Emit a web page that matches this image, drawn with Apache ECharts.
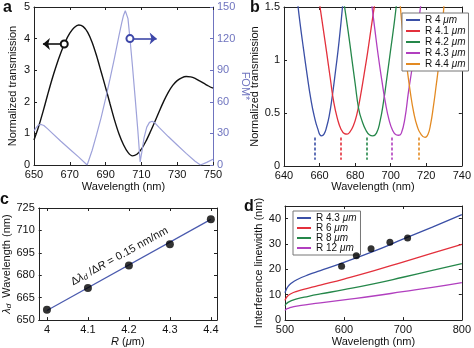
<!DOCTYPE html>
<html><head><meta charset="utf-8">
<script src="https://cdn.jsdelivr.net/npm/echarts@6/dist/echarts.min.js"></script>
<style>html,body{margin:0;padding:0;background:#fff}#c{width:474px;height:348px}</style>
</head><body><div id="c"></div><script>
const FONT = 'Liberation Sans, Arial, sans-serif';

// ---------- Panel a ----------
const aTransX = [650,652.5,655,657.5,660,662.5,665,667.5,670,672.5,675,677.5,680,682.5,685,687.5,690,692.5,695,697.5,700,702.5,705,707.5,710,712.5,715,717.5,720,722.5,725,727.5,730,732.5,735,737.5,740,742.5,745,747.5,750];
const aTransY = [0.79,1.2,1.68,2.2,2.7,3.15,3.55,3.9,4.17,4.35,4.43,4.38,4.2,3.88,3.45,2.95,2.45,1.93,1.42,0.98,0.64,0.4,0.29,0.34,0.5,0.75,1.05,1.37,1.7,2.02,2.3,2.52,2.67,2.76,2.8,2.79,2.74,2.66,2.58,2.5,2.43];
const aFomX = [650,651,652.5,654,655.5,657.5,660,665,670,675,679.7,682.5,685,687.5,690,692.5,695,697.5,699,700,701,701.8,702.5,703.5,705,706.5,708,709.3,710.2,711.5,713,714.5,716,717.5,720,725,730,735,740,743,746.5,750];
const aFomY = [32,35,38,38.5,37.5,34.5,30.5,22.5,15,7.5,0,14,29,45,63,82,102,123,135,142,146.5,146,139,122,94,64,33,3,12,26,36,40.5,41.5,40,35.5,27,19,11,3.5,0,2.5,5.5];
const aXTicks = [650,670,690,710,730,750];
const aYTicks = [0,1,2,3,4,5];
const aFomTicks = [0,30,60,90,120,150];

// ---------- Panel b ----------
const bNames = ['R 4 μm','R 4.1 μm','R 4.2 μm','R 4.3 μm','R 4.4 μm'];
const bR40 = [[647.6,1.55],[649,1.35],[651,1.1],[653,0.86],[655,0.64],[657,0.47],[659,0.35],[661,0.285],[662.5,0.3],[664,0.37],[665.5,0.48],[667,0.64],[669,0.9],[671,1.18],[673,1.52]];
const bR41 = [[660,1.53],[662,1.3],[664,1.07],[666,0.83],[668,0.6],[670,0.45],[672,0.35],[674,0.305],[675.5,0.3],[677,0.32],[679,0.38],[681,0.49],[683,0.66],[685,0.86],[687,1.07],[689,1.3],[691,1.53]];
const bR42 = [[673.8,1.53],[676,1.28],[678,1.03],[680,0.78],[682,0.54],[684,0.42],[686,0.34],[688,0.295],[690,0.285],[692,0.31],[694,0.42],[696,0.61],[698,0.85],[700,1.1],[702,1.35],[703.2,1.52]];
const bR43 = [[689.3,1.53],[691,1.3],[693,1.04],[695,0.81],[697,0.6],[699,0.44],[701,0.34],[703,0.295],[704.6,0.29],[706,0.31],[708,0.45],[710,0.7],[712,0.92],[714,1.15],[716,1.4],[717,1.53]];
const bR44 = [[705.3,1.53],[707,1.22],[709,0.95],[711,0.7],[713,0.5],[715,0.37],[717,0.3],[719.3,0.27],[721,0.3],[722.5,0.4],[724,0.56],[725.5,0.75],[727,0.95],[728.5,1.2],[730,1.53]];
const bArrowX = [657.4,671.9,686.3,700.7,715.7];
const bXTicks = [640,660,680,700,720,740];
const bYTicks = [0,0.5,1,1.5];
const bColors = ['#3a4fa6','#e3303c','#25874a','#b13fbf','#e38a22'];

// ---------- Panel c ----------
const cR = [4,4.1,4.2,4.3,4.4];
const cLambda = [656.9,671.4,686.6,700.7,717.5];
const cFitR = [4,4.4];
const cFitL = [656.4,717.4];
const cXTicks = [4,4.1,4.2,4.3,4.4];
const cYTicks = [650,665,680,695,710,725];

// ---------- Panel d ----------
const dNames = ['R 4.3 μm ','R 6 μm ','R 8 μm ','R 12 μm '];
const dWave = [500,502,505,510,520,540,560,600,650,700,750,800];
const dR43 = [10.8,12.0,13.2,14.4,15.9,17.9,19.5,22.8,27.1,31.9,36.7,41.6];
const dR6  = [7.8,8.8,9.6,10.4,11.3,12.6,13.8,16.2,19.4,22.9,26.4,29.9];
const dR8  = [5.7,6.4,7.0,7.6,8.4,9.4,10.3,12.0,14.3,16.9,19.6,22.3];
const dR12 = [3.8,4.3,4.6,5.0,5.5,6.2,6.8,8.0,9.5,11.2,12.9,14.8];
const dMeasX = [596,621,646,678,708];
const dMeasY = [21.2,25.4,28.1,30.7,32.4];
const dXTicks = [500,600,700,800];
const dYTicks = [0,10,20,30,40];
const dColors = ['#3a4fa6','#e3303c','#25874a','#b13fbf'];

const zip = (xs, ys) => xs.map((x, i) => [x, ys[i]]);
const AX = '#222';
const baseLabel = {fontSize: 11, color: '#111', fontFamily: FONT};

function mainAxis(grid, pos, min, max, ticks, name, nameGap, extra) {
  return Object.assign({
    type: 'value', gridIndex: grid, position: pos, min: min, max: max,
    axisLine: {show: true, onZero: false, lineStyle: {color: AX, width: 1}},
    axisTick: {show: true, inside: true, length: 3, customValues: ticks, lineStyle: {color: AX}},
    axisLabel: Object.assign({show: true, customValues: ticks, margin: 4}, baseLabel),
    splitLine: {show: false},
    name: name, nameLocation: 'middle', nameGap: nameGap,
    nameTextStyle: {fontSize: 11, color: '#111', fontFamily: FONT}
  }, extra || {});
}
function frameAxis(grid, pos, min, max, ticks) {
  return {
    type: 'value', gridIndex: grid, position: pos, min: min, max: max,
    axisLine: {show: true, onZero: false, lineStyle: {color: AX, width: 1}},
    axisTick: {show: true, inside: true, length: 3, customValues: ticks, lineStyle: {color: AX}},
    axisLabel: {show: false}, splitLine: {show: false}
  };
}

const subRich = {
  n: {fontSize: 11, fontFamily: FONT, color: '#111'},
  it: {fontSize: 11, fontFamily: FONT, fontStyle: 'italic', color: '#111'},
  sub: {fontSize: 8, fontFamily: FONT, fontStyle: 'italic', color: '#111', verticalAlign: 'bottom', padding: [4, 0, 0, 0]}
};

const option = {
  animation: false,
  backgroundColor: '#fff',
  grid: [
    {left: 34, top: 7, width: 179, height: 158},
    {left: 284, top: 7, width: 182, height: 159},
    {left: 37, top: 208, width: 180, height: 116},
    {left: 285, top: 206, width: 182, height: 115}
  ],
  xAxis: [
    mainAxis(0, 'bottom', 650, 750, aXTicks, 'Wavelength (nm)', 16),
    frameAxis(0, 'top', 650, 750, aXTicks),
    mainAxis(1, 'bottom', 640, 740, bXTicks, 'Wavelength (nm)', 15),
    frameAxis(1, 'top', 640, 740, bXTicks),
    mainAxis(2, 'bottom', 3.98, 4.415, cXTicks, '{it|R} {n|(}{it|μ}{n|m)}', 11,
      {nameTextStyle: {fontSize: 11, fontFamily: FONT, color: '#111', rich: subRich}}),
    frameAxis(2, 'top', 3.98, 4.415, cXTicks),
    mainAxis(3, 'bottom', 500, 800, dXTicks, 'Wavelength (nm)', 12),
    frameAxis(3, 'top', 500, 800, dXTicks)
  ],
  yAxis: [
    mainAxis(0, 'left', 0, 5, aYTicks, 'Normalized transmission', 16),
    mainAxis(0, 'right', 0, 150, aFomTicks, 'FOM*', 24, {
      nameRotate: -90,
      axisLine: {show: true, onZero: false, lineStyle: {color: '#6f74bf', width: 1}},
      axisTick: {show: true, inside: true, length: 3, customValues: aFomTicks, lineStyle: {color: '#6f74bf'}},
      axisLabel: {show: true, customValues: aFomTicks, margin: 4, fontSize: 11, color: '#6f74bf', fontFamily: FONT},
      nameTextStyle: {fontSize: 11, color: '#6f74bf', fontFamily: FONT}
    }),
    mainAxis(1, 'left', 0, 1.5, bYTicks, 'Normalized transmission', 16),
    frameAxis(1, 'right', 0, 1.5, bYTicks),
    mainAxis(2, 'left', 650, 725, cYTicks, '{it|λ}{sub|d}{n|  Wavelength (nm)}', 22,
      {nameTextStyle: {fontSize: 11, fontFamily: FONT, color: '#111', rich: subRich}}),
    frameAxis(2, 'right', 650, 725, cYTicks),
    mainAxis(3, 'left', 0, 45, dYTicks, 'Interference linewidth (nm)', 17),
    frameAxis(3, 'right', 0, 45, dYTicks)
  ],
  legend: [
    {
      orient: 'vertical', left: 402, top: 13, data: bNames,
      backgroundColor: '#fff', borderColor: '#777', borderWidth: 1,
      padding: [2, 3, 2, 4], itemGap: 1, itemWidth: 14, itemHeight: 2, icon: 'rect',
      formatter: n => '{t|' + n.replace(' μm', '') + ' }{i|μm}',
      textStyle: {fontSize: 10, lineHeight: 10, fontFamily: FONT, color: '#111',
        rich: {t: {fontSize: 10, fontFamily: FONT, color: '#111'}, i: {fontSize: 10, fontFamily: FONT, fontStyle: 'italic', color: '#111'}}}
    },
    {
      orient: 'vertical', left: 293, top: 211, data: dNames,
      backgroundColor: '#fff', borderColor: '#777', borderWidth: 1,
      padding: [2, 4, 2, 4], itemGap: 0, itemWidth: 14, itemHeight: 2, icon: 'rect',
      formatter: n => '{t|' + n.trim().replace(' μm', '') + ' }{i|μm}',
      textStyle: {fontSize: 10, lineHeight: 9.5, fontFamily: FONT, color: '#111',
        rich: {t: {fontSize: 10, fontFamily: FONT, color: '#111'}, i: {fontSize: 10, fontFamily: FONT, fontStyle: 'italic', color: '#111'}}}
    }
  ],
  graphic: [
    {type: 'text', left: 3, top: 0, style: {text: 'a', font: 'bold 16px ' + FONT, fill: '#111'}},
    {type: 'text', left: 250, top: 0, style: {text: 'b', font: 'bold 16px ' + FONT, fill: '#111'}},
    {type: 'text', left: 0, top: 192, style: {text: 'c', font: 'bold 16px ' + FONT, fill: '#111'}},
    {type: 'text', left: 244, top: 199, style: {text: 'd', font: 'bold 16px ' + FONT, fill: '#111'}}
  ],
  series: []
};

// Panel a series
option.series.push({
  type: 'line', xAxisIndex: 0, yAxisIndex: 0, data: zip(aTransX, aTransY),
  showSymbol: false, smooth: 0.3, lineStyle: {color: '#111', width: 1.4}, itemStyle: {color: '#111'}, z: 3,
  markLine: {silent: true, symbol: ['emptyCircle', 'arrow'], symbolSize: [9, 7], label: {show: false},
    lineStyle: {color: '#111', width: 1.6, type: 'solid'},
    data: [[{coord: [666.9, 3.83]}, {coord: [655, 3.83]}]]}
});
option.series.push({
  type: 'line', xAxisIndex: 0, yAxisIndex: 1, data: zip(aFomX, aFomY),
  showSymbol: false, smooth: false, lineStyle: {color: '#9ea2da', width: 1.2}, itemStyle: {color: '#9ea2da'},
  markLine: {silent: true, symbol: ['emptyCircle', 'arrow'], symbolSize: [9, 7], label: {show: false},
    lineStyle: {color: '#3d47a8', width: 1.6, type: 'solid'},
    data: [[{coord: [703.6, 120]}, {coord: [718.5, 120]}]]}
});

// Panel b series
[bR40, bR41, bR42, bR43, bR44].forEach((d, i) => {
  option.series.push({
    type: 'line', name: bNames[i], xAxisIndex: 2, yAxisIndex: 2, data: d,
    showSymbol: false, smooth: true, clip: true,
    lineStyle: {color: bColors[i], width: 1.3}, itemStyle: {color: bColors[i]},
    markLine: {silent: true, symbol: ['none', 'arrow'], symbolSize: [0, 6], label: {show: false},
      lineStyle: {color: bColors[i], width: 1.6, type: [3, 2]},
      data: [[{coord: [bArrowX[i], 0.27]}, {coord: [bArrowX[i], 0.06]}]]}
  });
});

// Panel c series
option.series.push({
  type: 'line', xAxisIndex: 4, yAxisIndex: 4, data: zip(cFitR, cFitL),
  showSymbol: false, lineStyle: {color: '#4a5aae', width: 1.2},
  markPoint: {silent: true, symbol: 'circle', symbolSize: 0,
    data: [{coord: [4.177, 692.7]}],
    label: {show: true, position: 'inside', rotate: 29,
      formatter: '{n|Δ}{it|λ}{sub|d}{n| /Δ}{it|R}{n| = 0.15 nm/nm}',
      rich: subRich}}
});
option.series.push({
  type: 'scatter', xAxisIndex: 4, yAxisIndex: 4, data: zip(cR, cLambda),
  symbolSize: 8, itemStyle: {color: '#000'}, z: 4
});

// Panel d series
[dR43, dR6, dR8, dR12].forEach((v, i) => {
  option.series.push({
    type: 'line', name: dNames[i], xAxisIndex: 6, yAxisIndex: 6, data: zip(dWave, v),
    showSymbol: false, smooth: true, lineStyle: {color: dColors[i], width: 1.3}, itemStyle: {color: dColors[i]}
  });
});
option.series.push({
  type: 'scatter', xAxisIndex: 6, yAxisIndex: 6, data: zip(dMeasX, dMeasY),
  symbolSize: 7, itemStyle: {color: '#000'}, z: 4
});

const chart = echarts.init(document.getElementById('c'), null, {renderer: 'canvas'});
chart.setOption(option);
</script></body></html>
